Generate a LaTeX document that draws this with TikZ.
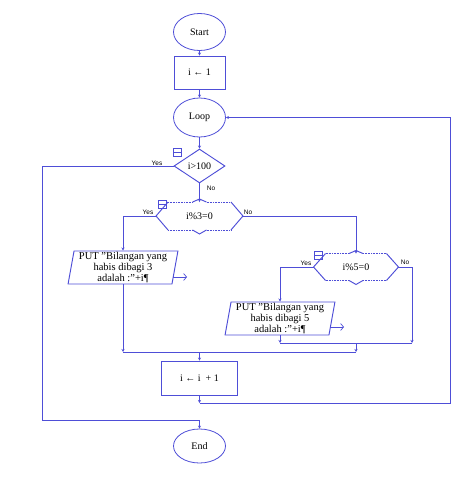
\documentclass[tikz,border=0pt]{standalone}
\usepackage{fontspec}
\setmainfont{Liberation Serif}
\newfontfamily\yesnofont{Liberation Sans}
\usetikzlibrary{shapes.geometric,arrows.meta,calc}
\definecolor{flowblue}{RGB}{78,78,215}

% outline of a select block: solid sides, dotted top and bottom
\newcommand{\selbox}[1]{%
  \draw ($(#1.north west)+(1.2,0)$) -- (#1.west) -- ($(#1.south west)+(1.2,0)$);
  \draw ($(#1.north east)+(-1.2,0)$) -- (#1.east) -- ($(#1.south east)+(-1.2,0)$);
  \draw[densely dotted,line width=0.6pt] ($(#1.north west)+(1.2,0)$) -- ($(#1.north)+(-0.7,0)$)
        ($(#1.north)+(0.7,0)$) -- ($(#1.north east)+(-1.2,0)$);
  \draw[densely dotted,line width=0.6pt] ($(#1.south west)+(1.2,0)$) -- ($(#1.south)+(-0.7,0)$)
        ($(#1.south)+(0.7,0)$) -- ($(#1.south east)+(-1.2,0)$);
  \draw ($(#1.north)+(-0.7,0)$) -- ($(#1.north)+(0,0.3)$) -- ($(#1.north)+(0.7,0)$);
  \draw ($(#1.south)+(-0.7,0)$) -- ($(#1.south)+(0,-0.4)$) -- ($(#1.south)+(0.7,0)$);
}

\begin{document}
\begin{tikzpicture}[x=10pt,y=10pt,line width=0.95pt,color=flowblue,
  every node/.append style={text=black},
  >={Stealth[length=3pt,width=3pt]},
  term/.style={ellipse,draw,line width=0.8pt,minimum width=52pt,minimum height=37pt,inner sep=0pt},
  box/.style={rectangle,draw,minimum width=51pt,minimum height=33pt},
  test/.style={diamond,draw,minimum width=51pt,minimum height=34pt,inner sep=0pt},
  io/.style={trapezium,trapezium left angle=80,trapezium right angle=100,trapezium stretches=true,
             draw,minimum width=110pt,minimum height=33pt,inner sep=0.5pt,align=center,
             font=\fontsize{10.5}{10.6}\selectfont},
  sel/.style={rectangle,minimum width=86pt,minimum height=27pt,inner sep=0pt},
  yn/.style={font=\yesnofont\fontsize{6.5}{7}\selectfont,inner sep=1pt},
  icon/.style={rectangle,draw,line width=0.7pt,minimum width=8pt,minimum height=8pt,inner sep=0pt,
               path picture={\draw (path picture bounding box.west) -- (path picture bounding box.east);}},
  outarrow/.style={-{Straight Barb[length=3pt,width=7pt]},line width=0.7pt}]
	\useasboundingbox (0,0) rectangle (47.4,-50.3);

	%BLOCKS
	\node[term] (start) at (19.95,-3.2) {Start};
	\node[box] (init) at (19.95,-7.25) {i ← 1};
	\node[term,minimum height=39pt] (loop) at (19.95,-11.75) {Loop};
	\node[test] (cond1) at (19.95,-16.6) {i>100};
	\node[sel] (cond2) at (19.95,-21.6) {i\%3=0};
	\selbox{cond2}
	\node[io] (put3) at (12.3,-26.75) {PUT "Bilangan yang\\habis dibagi 3\\adalah :"+i¶};
	\node[sel,minimum width=84pt,minimum height=26pt] (cond3) at (35.6,-26.7) {i\%5=0};
	\selbox{cond3}
	\node[io] (put5) at (28.0,-31.85) {PUT "Bilangan yang\\habis dibagi 5\\adalah :"+i¶};
	\node[box,minimum width=76pt,minimum height=34pt] (incr) at (19.95,-37.8) {i ← i \ + 1};
	\node[term,minimum height=34pt] (end) at (19.95,-44.6) {End};

	%ICONS
	\node[icon] (ic1) at (17.75,-15.25) {};
	\node[icon] (ic2) at (16.2,-20.4) {};
	\node[icon] (ic3) at (31.8,-25.5) {};

	%JOINTS
	\coordinate (skip) at (4.2,-42.0);
	\coordinate (join5) at (41.2,-34.3);
	\coordinate (join3) at (35.6,-35.2);
	\coordinate (back) at (45.0,-40.3);

	%LINKS
	\draw[->] (start) -- (init);
	\draw[->] (init) -- (loop);
	\draw[->] (loop) -- (cond1);
	\draw[->] (cond1.west) -| (skip) -| (end.north);
	\draw[->] (cond1) -- (cond2.north);
	\draw[->] (cond2.west) -| (put3.north);
	\draw[->] (cond2.east) -| (cond3.north);
	\draw[->] (cond3.west) -| (put5.north);
	\draw[->] (cond3.east) -| (join5);
	\draw[->] (put5.south) -- (put5.south |- join5);
	\draw (put5.south |- join5) -- (join5);
	\draw[->] (cond3.north |- join5) -- (join3);
	\draw[->] (put3.south) -- (put3.south |- join3);
	\draw (put3.south |- join3) -- (join3);
	\draw[->] (incr.north |- join3) -- (incr.north);
	\draw[->] (incr.south) -- (incr.south |- back);
	\draw[->] (incr.south |- back) -- (back) |- (loop.east);

	%OUTPUT ARROWS
	\draw[outarrow] ($(put3.center)+(5.0,-0.95)$) -- ++(1.4,0);
	\draw[outarrow] ($(put5.center)+(5.1,-0.85)$) -- ++(1.3,0);

	%LABELS
	\node[yn] (yes1) at (15.7,-16.3) {Yes};
	\node[yn] (no1) at (21.1,-18.8) {No};
	\node[yn] (yes2) at (14.8,-21.2) {Yes};
	\node[yn] (no2) at (24.8,-21.2) {No};
	\node[yn] (yes3) at (30.6,-26.3) {Yes};
	\node[yn] (no3) at (40.5,-26.2) {No};
\end{tikzpicture}
\end{document}
